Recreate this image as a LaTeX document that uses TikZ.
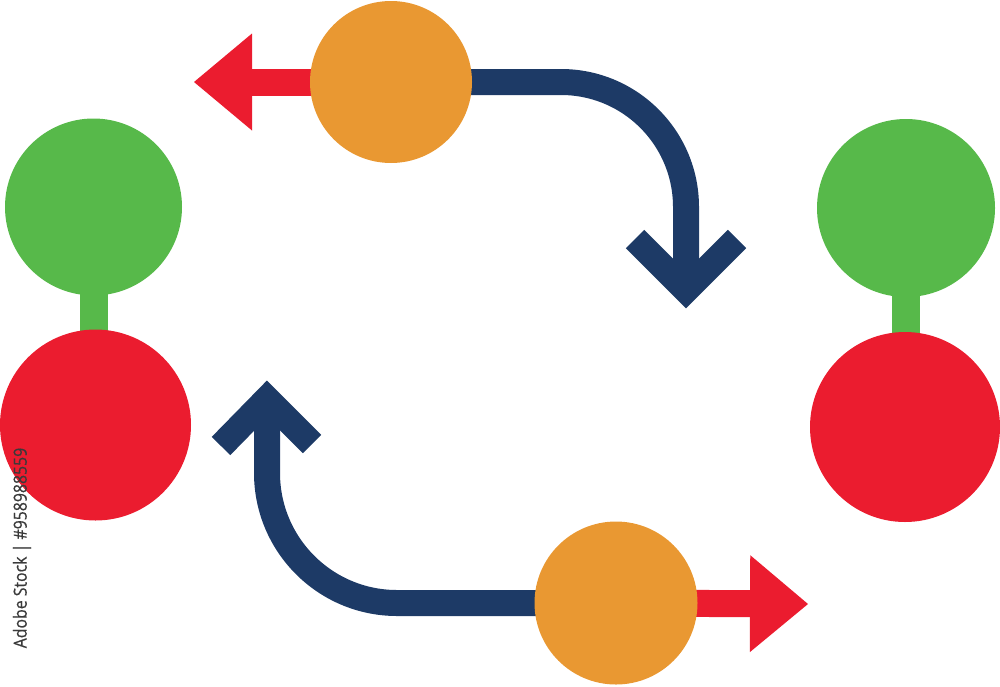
\documentclass[tikz,border=0pt]{standalone}
\usepackage{fontspec}
\newfontfamily\markfont[FakeBold=0.6]{Open Sans}
\usetikzlibrary{arrows.meta,backgrounds}
\definecolor{corange}{HTML}{E99832}
\definecolor{cred}{HTML}{EB1C2F}
\definecolor{cgreen}{HTML}{57B94A}
\definecolor{cnavy}{HTML}{1D3A66}
\definecolor{cmark}{HTML}{3A3A3A}
\tikzset{
  dot/.style={circle, draw=none, inner sep=0pt, minimum size=#1},
  navyline/.style={draw=cnavy, line width=26pt, line cap=butt},
  redline/.style={draw=cred, line width=27pt, -{Triangle[length=58pt,width=97pt,line width=0pt]}},
  stem/.style={draw=cgreen, line width=28pt},
  chevron/.style={draw=cnavy, line width=26pt, line join=miter, miter limit=10, line cap=butt},
  stockmark/.style={rotate=90, text=cmark, font=\markfont\fontsize{18}{18}\selectfont, inner sep=0pt}
}
\begin{document}
\begin{tikzpicture}[x=1pt,y=-1pt]
\useasboundingbox (0,0) rectangle (1000,686);
% circles
\node[dot=162pt, fill=corange] (otop) at (391,82) {};
\node[dot=163pt, fill=corange] (obot) at (616,603) {};
\node[dot=177pt, fill=cgreen] (gl) at (93.5,207) {};
\node[dot=191pt, fill=cred] (rl) at (95.5,425) {};
\node[dot=178pt, fill=cgreen] (gr) at (906,208) {};
\node[dot=190pt, fill=cred] (rr) at (905,427) {};
% free ends
\coordinate (tl) at (194,82);
\coordinate (tr) at (808,604);
\coordinate (vt) at (686,290);
\coordinate (vb) at (267,399);
\begin{scope}[on background layer]
  \draw[stem] (94,207) -- (94,425);
  \draw[stem] (905.5,208) -- (905.5,427);
  \draw[redline] (otop.center) -- (tl);
  \draw[redline] (obot.center) -- (tr);
  \draw[navyline, rounded corners=125pt] (otop.center) -- (otop.center -| vt) -- (vt);
  \draw[navyline, rounded corners=130pt] (obot.center) -- (obot.center -| vb) -- (vb);
\end{scope}
% chevron heads
\draw[chevron] (vt) ++(-51,-51) -- (vt) -- ++(51,-51);
\draw[chevron] (vb) ++(-46,47) -- (vb) -- ++(45,45);
% vertical stock mark
\node[stockmark] (wm) at (22,548) {\scalebox{0.88}[1]{Adobe Stock | \#958988559}};
\end{tikzpicture}
\end{document}
